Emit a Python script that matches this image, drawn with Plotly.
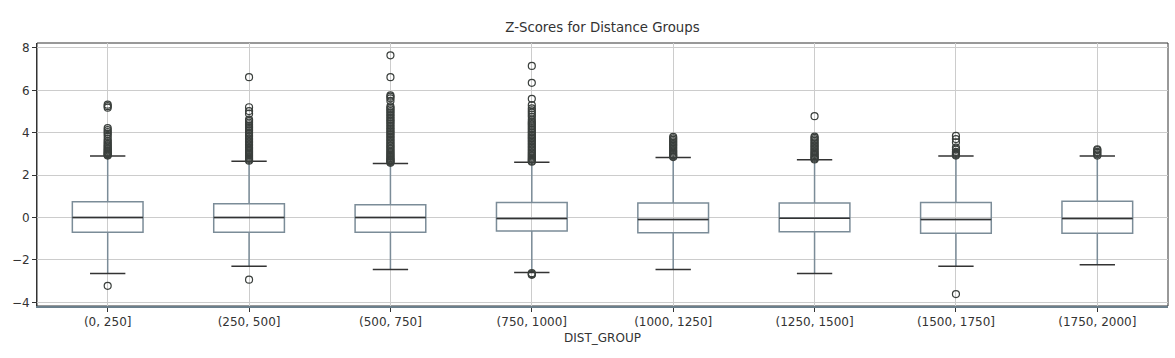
import plotly.graph_objects as go

categories = ["(0, 250]", "(250, 500]", "(500, 750]", "(750, 1000]",
              "(1000, 1250]", "(1250, 1500]", "(1500, 1750]", "(1750, 2000]"]
q1 = [-0.69, -0.69, -0.69, -0.63, -0.72, -0.67, -0.74, -0.74]
median = [0.0, 0.0, 0.0, -0.05, -0.09, -0.03, -0.09, -0.05]
q3 = [0.75, 0.65, 0.60, 0.71, 0.69, 0.69, 0.71, 0.77]
lower_whisker = [-2.64, -2.29, -2.45, -2.59, -2.45, -2.64, -2.29, -2.23]
upper_whisker = [2.90, 2.66, 2.55, 2.61, 2.83, 2.72, 2.90, 2.90]

outliers = [
    [2.92, 2.95, 2.99, 3.03, 3.07, 3.12, 3.17, 3.22, 3.28, 3.34, 3.4, 3.47, 3.55,
     3.62, 3.72, 3.85, 3.95, 4.03, 4.12, 4.22, 5.18, 5.25, 5.32, -3.22],
    [2.68, 2.72, 2.77, 2.82, 2.88, 2.94, 3.0, 3.06, 3.12, 3.19, 3.25, 3.32, 3.39,
     3.46, 3.53, 3.6, 3.67, 3.74, 3.81, 3.88, 3.95, 4.02, 4.1, 4.17, 4.25, 4.32,
     4.4, 4.47, 4.55, 4.62, 4.9, 5.02, 5.2, 6.62, -2.93],
    [2.58, 2.62, 2.66, 2.71, 2.75, 2.8, 2.86, 2.91, 2.97, 3.03, 3.09, 3.15, 3.22,
     3.28, 3.35, 3.41, 3.48, 3.55, 3.62, 3.69, 3.76, 3.83, 3.9, 3.98, 4.05, 4.12,
     4.2, 4.27, 4.35, 4.42, 4.5, 4.57, 4.64, 4.72, 4.8, 4.87, 4.95, 5.02, 5.1,
     5.17, 5.24, 5.5, 5.62, 5.7, 5.76, 6.62, 7.65],
    [2.63, 2.67, 2.72, 2.77, 2.83, 2.89, 2.95, 3.01, 3.08, 3.15, 3.22, 3.29, 3.36,
     3.43, 3.5, 3.57, 3.64, 3.71, 3.78, 3.85, 3.92, 4.0, 4.07, 4.15, 4.22, 4.3,
     4.38, 4.45, 4.52, 4.62, 4.75, 4.85, 4.95, 5.05, 5.15, 5.3, 5.6, 6.35, 7.15,
     -2.62, -2.67, -2.7],
    [2.85, 2.89, 2.94, 2.99, 3.05, 3.11, 3.17, 3.24, 3.31, 3.38, 3.45, 3.52, 3.59,
     3.66, 3.73, 3.8],
    [2.74, 2.78, 2.83, 2.88, 2.94, 3.0, 3.06, 3.13, 3.2, 3.27, 3.34, 3.41, 3.48,
     3.55, 3.62, 3.69, 3.76, 3.82, 4.78],
    [2.92, 2.96, 3.0, 3.05, 3.1, 3.2, 3.3, 3.55, 3.7, 3.85, -3.61],
    [2.92, 2.98, 3.05, 3.1, 3.18, 3.22],
]

BOX_COLOR = "#7b8c98"
DARK = "#333333"
FONT = "DejaVu Sans"

positions = list(range(1, len(categories) + 1))

fig = go.Figure()

fig.add_trace(go.Box(
    x=positions, q1=q1, median=median, q3=q3,
    lowerfence=lower_whisker, upperfence=upper_whisker,
    boxpoints=False, fillcolor="rgba(0,0,0,0)",
    line=dict(color=BOX_COLOR, width=1.5), whiskerwidth=0,
    showlegend=False, hoverinfo="skip",
))

# medians
mx, my = [], []
for p, m in zip(positions, median):
    mx += [p - 0.25, p + 0.25, None]
    my += [m, m, None]
fig.add_trace(go.Scatter(x=mx, y=my, mode="lines",
                         line=dict(color=DARK, width=1.5), showlegend=False,
                         hoverinfo="skip"))

# caps
cx, cy = [], []
for p, lo, hi in zip(positions, lower_whisker, upper_whisker):
    cx += [p - 0.125, p + 0.125, None, p - 0.125, p + 0.125, None]
    cy += [lo, lo, None, hi, hi, None]
fig.add_trace(go.Scatter(x=cx, y=cy, mode="lines",
                         line=dict(color=DARK, width=1.5), showlegend=False,
                         hoverinfo="skip"))

# fliers
fx, fy = [], []
for p, vals in zip(positions, outliers):
    fx += [p] * len(vals)
    fy += vals
fig.add_trace(go.Scatter(x=fx, y=fy, mode="markers",
                         marker=dict(symbol="circle-open", size=7,
                                     color="#3a3f3c", line=dict(width=1.2)),
                         showlegend=False, hoverinfo="skip"))

fig.update_layout(
    width=1175, height=358,
    margin=dict(l=37, r=7, t=43, b=52, autoexpand=False),
    paper_bgcolor="white", plot_bgcolor="white",
    font=dict(family=FONT, size=12, color=DARK),
    title=dict(text="Z-Scores for Distance Groups", x=0.5, xref="paper",
               y=1 - 27 / 358, yref="container", yanchor="middle",
               font=dict(size=13.3, color=DARK), automargin=False),
    boxgap=0.5, boxgroupgap=0,
)

fig.update_xaxes(
    range=[0.5, 8.5], tickvals=positions, ticktext=categories,
    showgrid=True, gridcolor="#cccccc", gridwidth=1,
    showline=True, linecolor="#6b7f8c", linewidth=2,
    ticks="outside", ticklen=4, tickcolor=DARK,
    title=dict(text="DIST_GROUP", standoff=5, font=dict(size=12)),
    zeroline=False, automargin=False,
)
fig.update_yaxes(
    range=[-4.17, 8.23], tickvals=[-4, -2, 0, 2, 4, 6, 8],
    ticktext=["\u22124", "\u22122", "0", "2", "4", "6", "8"],
    showgrid=True, gridcolor="#cccccc", gridwidth=1,
    showline=True, linecolor=DARK, linewidth=1,
    ticks="outside", ticklen=4, tickcolor=DARK,
    zeroline=False, automargin=False,
)

fig.add_shape(type="rect", xref="x domain", yref="y domain",
              x0=0, x1=1, y0=0, y1=1, line=dict(color=DARK, width=1),
              layer="below")

fig.write_html(
    "out.html",
    config={"displayModeBar": False},
    post_script="document.body.style.margin='0';document.body.style.overflow='hidden';",
)
